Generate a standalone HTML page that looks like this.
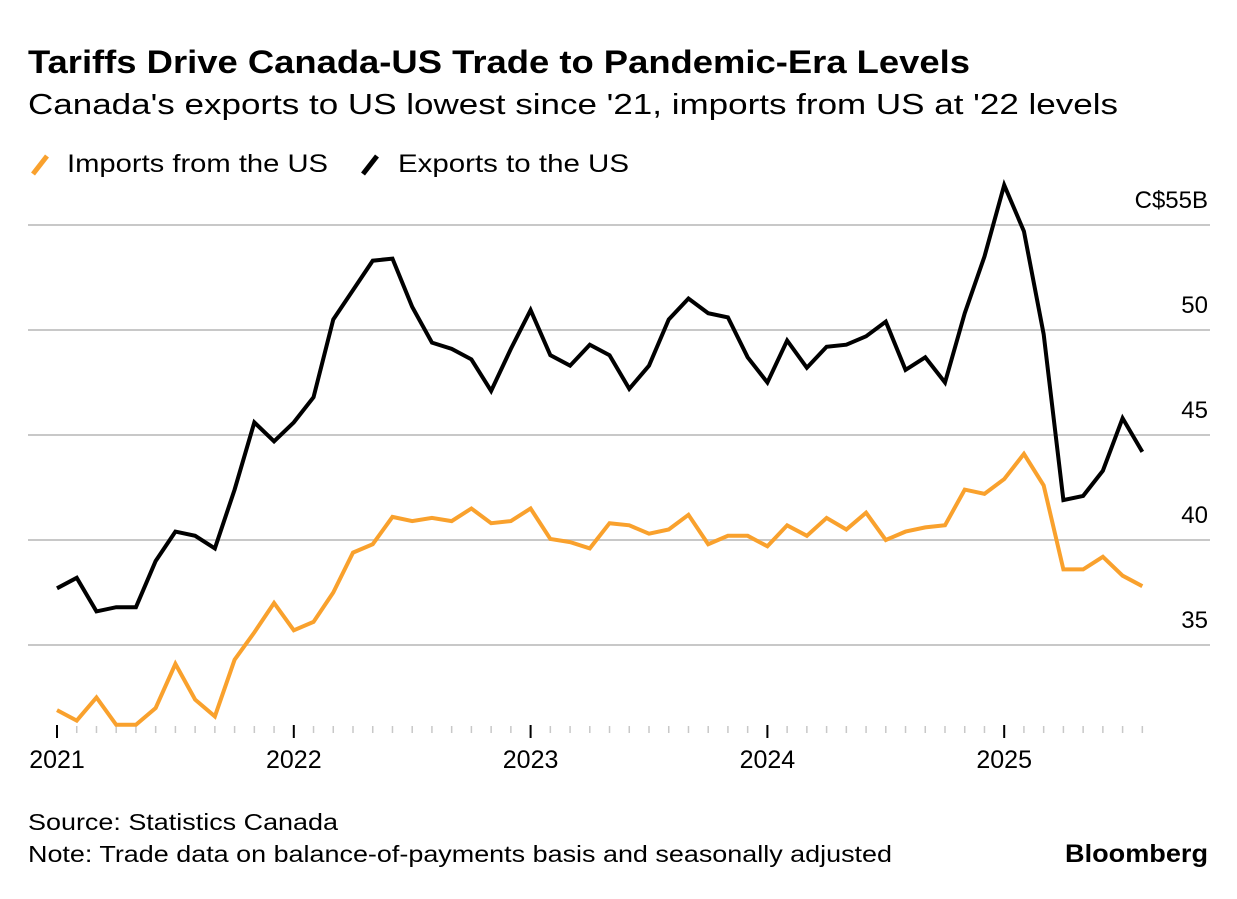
<!DOCTYPE html>
<html><head><meta charset="utf-8"><style>
body{margin:0;background:#fff;font-family:"Liberation Sans",sans-serif;}
svg text{font-family:"Liberation Sans",sans-serif;}
</style></head><body>
<svg id="chart" width="1237" height="894" viewBox="0 0 1237 894">
<text x="28" y="73" font-size="32" font-weight="bold" fill="#000" textLength="942" lengthAdjust="spacingAndGlyphs">Tariffs Drive Canada-US Trade to Pandemic-Era Levels</text>
<text x="28" y="114" font-size="29" fill="#000" textLength="1090" lengthAdjust="spacingAndGlyphs">Canada's exports to US lowest since '21, imports from US at '22 levels</text>
<g>
<line x1="33" y1="174" x2="47" y2="156" stroke="#f9a12d" stroke-width="5"/>
<text x="67" y="172" font-size="25" textLength="261" lengthAdjust="spacingAndGlyphs">Imports from the US</text>
<line x1="363" y1="174" x2="377" y2="156" stroke="#000" stroke-width="5"/>
<text x="398" y="172" font-size="25" textLength="231" lengthAdjust="spacingAndGlyphs">Exports to the US</text>
</g>
<g id="grid"></g><g id="xaxis"></g><g id="series"></g>
<text x="28" y="830" font-size="23" textLength="310" lengthAdjust="spacingAndGlyphs">Source: Statistics Canada</text>
<text x="28" y="862" font-size="23" textLength="864" lengthAdjust="spacingAndGlyphs">Note: Trade data on balance-of-payments basis and seasonally adjusted</text>
<text x="1208" y="862" font-size="25" font-weight="bold" text-anchor="end" textLength="143" lengthAdjust="spacingAndGlyphs">Bloomberg</text>
</svg>
<script>
const yTicks=[55,50,45,40,35];
const yTickLabels=["C$55B","50","45","40","35"];
const xYears=[2021,2022,2023,2024,2025];
const exportsUS=[37.7,38.2,36.6,36.8,36.8,39.0,40.4,40.2,39.6,42.4,45.6,44.7,45.6,46.8,50.5,51.9,53.3,53.4,51.1,49.4,49.1,48.6,47.1,49.1,50.95,48.8,48.3,49.3,48.8,47.2,48.3,50.5,51.5,50.8,50.6,48.7,47.5,49.5,48.2,49.2,49.3,49.7,50.4,48.1,48.7,47.5,50.8,53.5,56.9,54.7,49.8,41.9,42.1,43.3,45.8,44.2];
const importsUS=[31.9,31.4,32.5,31.2,31.2,32.0,34.1,32.4,31.6,34.3,35.6,37.0,35.7,36.1,37.5,39.4,39.8,41.1,40.9,41.05,40.9,41.5,40.8,40.9,41.5,40.05,39.9,39.6,40.8,40.7,40.3,40.5,41.2,39.8,40.2,40.2,39.7,40.7,40.2,41.05,40.5,41.3,40.0,40.4,40.6,40.7,42.4,42.2,42.9,44.1,42.6,38.6,38.6,39.2,38.3,37.8];
const NS="http://www.w3.org/2000/svg";
const y=v=>645-(v-35)*21;
const x=i=>57+i*(236.8/12);
function mk(tag,attrs,parent){const e=document.createElementNS(NS,tag);for(const k in attrs)e.setAttribute(k,attrs[k]);parent.appendChild(e);return e;}
const grid=document.getElementById('grid');
yTicks.forEach((v,i)=>{
 const l=mk('line',{x1:28,x2:1210,y1:y(v),y2:y(v),stroke:'#c8c8c8','stroke-width':2},grid);
 
 
 const t=mk('text',{x:1208,y:y(v)-17,'font-size':24,'text-anchor':'end'},grid);
 t.textContent=yTickLabels[i];
 
 
});
const xa=document.getElementById('xaxis');
for(let m=0;m<56;m++){
 const big=m%12===0;
 const tk=mk('line',{x1:x(m),x2:x(m),y1:big?725:726,y2:big?738:733,stroke:big?'#000':'#c8c8c8','stroke-width':big?2:1.5},xa);
 
 
}
xYears.forEach((yr,i)=>{
 const t=mk('text',{x:x(i*12),y:768,'font-size':25,'text-anchor':'middle'},xa);
 t.textContent=yr;
 
 
});
const s=document.getElementById('series');
function line(data,color,name){
 const p=mk('polyline',{points:data.map((v,i)=>x(i)+','+y(v)).join(' '),fill:'none',stroke:color,'stroke-width':4,'stroke-linejoin':'miter'},s);
 
 
}
line(importsUS,'#f9a12d','imports-line');
line(exportsUS,'#000','exports-line');
</script>
</body></html>
